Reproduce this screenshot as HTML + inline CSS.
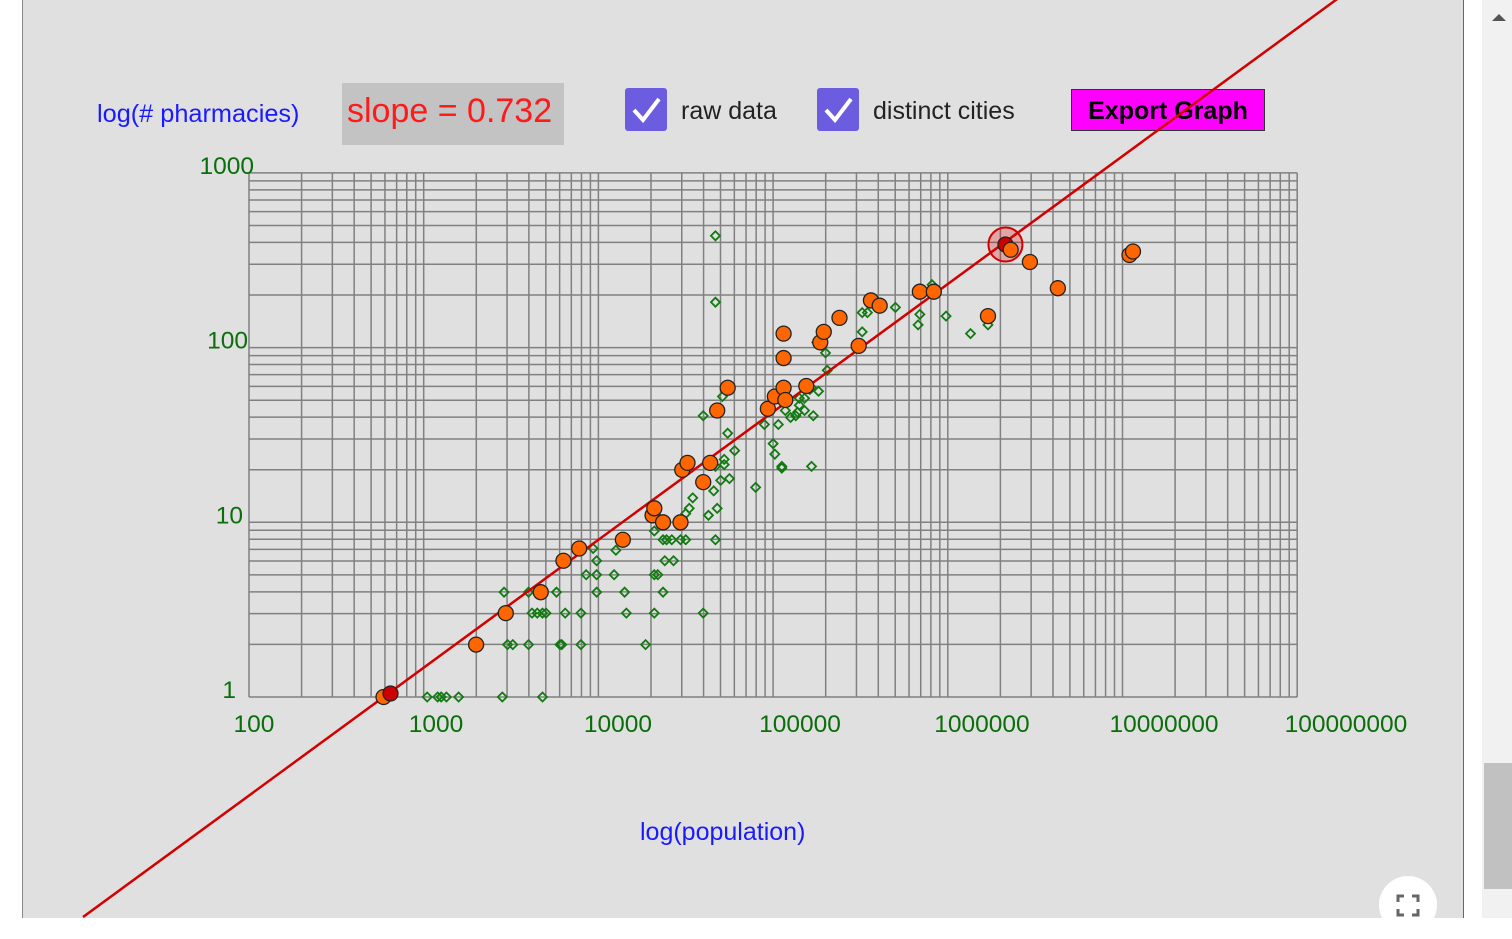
<!DOCTYPE html>
<html><head><meta charset="utf-8"><style>
html,body{margin:0;padding:0;width:1512px;height:918px;overflow:hidden;background:#fff;font-family:"Liberation Sans",sans-serif;}
#panel{position:absolute;left:22px;top:0;width:1440px;height:918px;background:#e0e0e0;border-left:1px solid #888;border-right:1px solid #666;}
.t{position:absolute;white-space:nowrap;}
</style></head><body>
<div id="panel"></div>
<div class="t" style="left:97px;top:100px;font-size:25.3px;color:#1a1aff;">log(# pharmacies)</div>
<div style="position:absolute;left:342px;top:83px;width:222px;height:62px;background:#c3c3c3;"></div>
<div class="t" style="left:347px;top:92px;font-size:34px;color:#ff1a1a;">slope = 0.732</div>
<div style="position:absolute;left:625px;top:88px;width:42px;height:43px;background:#6b5ce0;border-radius:3px;"><svg width="42" height="43"><path d="M9 22 L18 32 L34 11" stroke="#fff" stroke-width="4" fill="none"/></svg></div>
<div class="t" style="left:681px;top:97px;font-size:25px;color:#222;">raw data</div>
<div style="position:absolute;left:817px;top:88px;width:42px;height:43px;background:#6b5ce0;border-radius:3px;"><svg width="42" height="43"><path d="M9 22 L18 32 L34 11" stroke="#fff" stroke-width="4" fill="none"/></svg></div>
<div class="t" style="left:873px;top:97px;font-size:25px;color:#222;">distinct cities</div>
<div style="position:absolute;left:1071px;top:89px;width:192px;height:40px;background:#ff00ff;border:1px solid #333;font-weight:bold;font-size:25px;line-height:42px;text-align:center;color:#000;">Export Graph</div>
<svg id="chart" width="1512" height="918" style="position:absolute;left:0;top:0;"></svg>
<div class="t" style="left:640px;top:818px;font-size:25px;color:#1a1aff;">log(population)</div>
<div style="position:absolute;left:1482px;top:0;width:30px;height:918px;background:#f1f1f1;"></div>
<div style="position:absolute;left:1492px;top:14px;width:0;height:0;border-left:7px solid transparent;border-right:7px solid transparent;border-bottom:7px solid #555;"></div>
<div style="position:absolute;left:1484px;top:763px;width:28px;height:126px;background:#c1c1c1;"></div>
<div style="position:absolute;left:1379px;top:876px;width:58px;height:58px;border-radius:50%;background:#fff;"><svg width="58" height="58"><path d="M19 26v-6h6M33 20h6v6M39 33v6h-6M25 39h-6v-6" stroke="#666" stroke-width="3" fill="none"/></svg></div>
<script>
// data: log10(population), log10(pharmacies)
const cityLogPop=[2.77,2.81,3.30,3.47,3.67,3.80,3.89,4.14,4.31,4.32,4.37,4.47,4.48,4.51,4.60,4.64,4.68,4.74,4.97,5.01,5.06,5.07,5.06,5.06,5.19,5.27,5.29,5.38,5.49,5.56,5.61,5.84,5.92,6.23,6.33,6.36,6.47,6.63,7.04,7.06];
const cityLogPharm=[0.00,0.02,0.30,0.48,0.60,0.78,0.85,0.90,1.04,1.08,1.00,1.00,1.30,1.34,1.23,1.34,1.64,1.77,1.65,1.72,1.77,1.70,2.08,1.94,1.78,2.03,2.09,2.17,2.01,2.27,2.24,2.32,2.32,2.18,2.59,2.56,2.49,2.34,2.53,2.55];
const rawLogPop=[4.67,4.67,3.02,3.08,3.10,3.13,3.20,3.45,3.68,3.46,3.60,3.76,3.62,3.65,3.68,3.70,3.81,3.90,4.16,4.32,4.60,3.48,3.51,3.60,3.78,3.79,3.90,4.27,3.93,3.99,4.09,4.32,4.34,3.99,4.15,4.37,3.99,4.38,4.43,4.10,3.97,4.37,4.39,4.42,4.47,4.50,4.67,4.32,4.50,4.52,4.63,4.68,4.54,4.66,4.70,4.75,4.90,4.78,4.74,4.60,4.72,4.67,4.72,4.71,4.95,5.00,5.01,5.03,5.05,5.05,5.07,5.10,5.13,5.15,5.18,5.23,5.22,5.18,5.21,5.22,5.26,5.30,5.31,5.25,5.28,5.51,5.51,5.54,5.70,5.83,5.84,5.99,5.91,6.13,6.23,5.15,5.14];
const rawLogPharm=[2.64,2.26,0,0,0,0,0,0,0,0.60,0.60,0.60,0.48,0.48,0.48,0.48,0.48,0.48,0.48,0.48,0.48,0.30,0.30,0.30,0.30,0.30,0.30,0.30,0.70,0.70,0.70,0.70,0.70,0.60,0.60,0.60,0.78,0.78,0.78,0.84,0.85,0.90,0.90,0.90,0.90,0.90,0.90,0.95,1.05,1.08,1.04,1.08,1.14,1.18,1.24,1.25,1.20,1.41,1.51,1.61,1.33,1.32,1.36,1.72,1.56,1.45,1.39,1.56,1.31,1.32,1.64,1.60,1.61,1.67,1.64,1.61,1.32,1.71,1.76,1.77,1.75,1.97,1.87,2.03,2.01,2.09,2.20,2.20,2.23,2.13,2.19,2.18,2.36,2.08,2.13,1.71,1.63];
const slope=0.732, interceptLog=-2.028;
const xTicks=["100","1000","10000","100000","1000000","10000000","100000000"];
const yTicks=["1","10","100","1000"];
const highlighted=34;

const NS="http://www.w3.org/2000/svg";
const svg=document.getElementById('chart');
const X0=249,DEC=174.7,Y0=697;
const xs=l=>X0+(l-2)*DEC, ys=l=>Y0-l*DEC;
function mk(t,a){const e=document.createElementNS(NS,t);for(const k in a)e.setAttribute(k,a[k]);svg.appendChild(e);return e;}
// grid
for(let d=2;d<8;d++)for(let i=1;i<=9;i++){const x=xs(d+Math.log10(i));const g=mk('line',{x1:x,x2:x,y1:ys(3),y2:Y0,stroke:'#808080','stroke-width':1.5});

}
{const x=xs(8);const g=mk('line',{x1:x,x2:x,y1:ys(3),y2:Y0,stroke:'#808080','stroke-width':1.5});}
for(let d=0;d<3;d++)for(let i=1;i<=9;i++){const y=ys(d+Math.log10(i));const g=mk('line',{x1:X0,x2:xs(8),y1:y,y2:y,stroke:'#808080','stroke-width':1.5});

}
{const y=ys(3);const g=mk('line',{x1:X0,x2:xs(8),y1:y,y2:y,stroke:'#808080','stroke-width':1.5});}
// tick labels
xTicks.forEach((s,i)=>{const t=mk('text',{x:254+i*182,y:732,'text-anchor':'middle','font-size':24.5,fill:'#0a6e0a','font-family':'Liberation Sans'});t.textContent=s;

});
yTicks.forEach((s,i)=>{const t=mk('text',{x:i==3?254:(i==0?236:(i==1?243:248)),y:ys(i)+1,'text-anchor':'end','font-size':24.5,fill:'#0a6e0a','font-family':'Liberation Sans'});t.textContent=s;

});
// raw diamonds
rawLogPop.forEach((p,i)=>{const x=xs(p),y=ys(rawLogPharm[i]),r=4.5;const d=mk('polygon',{points:`${x},${y-r} ${x+r},${y} ${x},${y+r} ${x-r},${y}`,fill:'none',stroke:'#137a13','stroke-width':1.8});

});
// fit line
{const la=1.05,lb=8.25;const l=mk('line',{x1:xs(la),y1:ys(interceptLog+slope*la),x2:xs(lb),y2:ys(interceptLog+slope*lb),stroke:'#d40000','stroke-width':2.5});

}
// city circles
cityLogPop.forEach((p,i)=>{const x=xs(p),y=ys(cityLogPharm[i]);
if(i===highlighted){const h=mk('circle',{cx:x,cy:y,r:17,fill:'rgba(220,0,0,0.25)',stroke:'#d40000','stroke-width':2});}
const c=mk('circle',{cx:x,cy:y,r:7.5,fill:(i===highlighted||i===1)?'#cc0000':'#ff6600',stroke:'#222','stroke-width':1.3});

});
</script>
</body></html>
